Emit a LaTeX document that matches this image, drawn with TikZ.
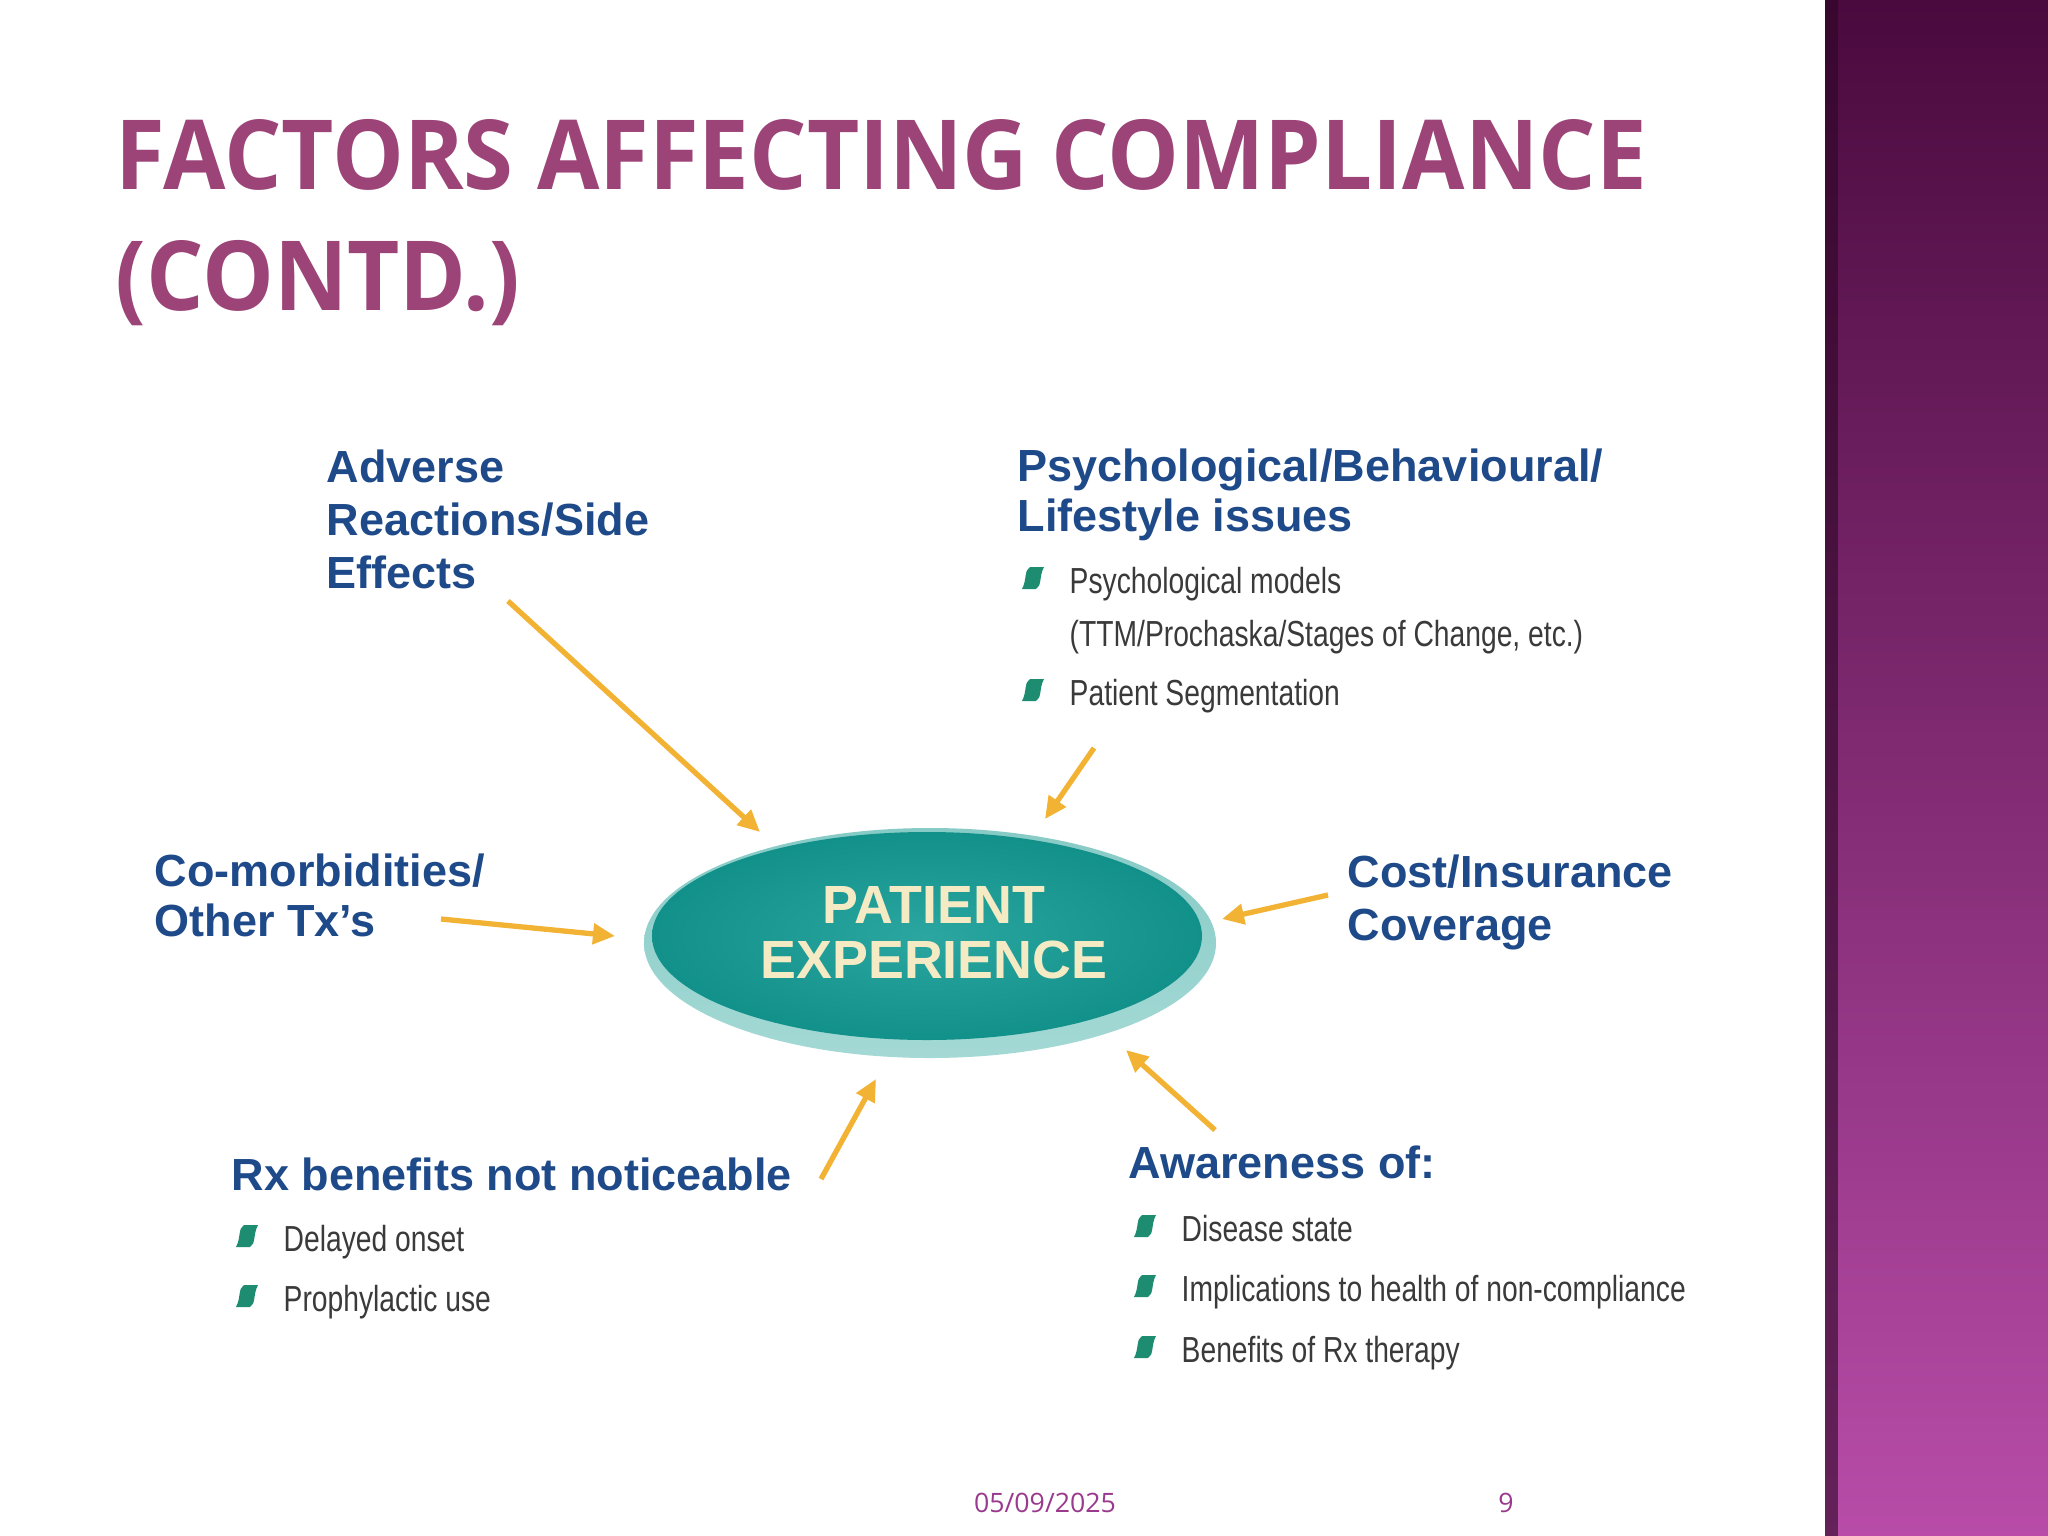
\documentclass[tikz,border=0pt]{standalone}
\usepackage{fontspec}
\setmainfont{Liberation Sans}
\newfontfamily\titlefont[FakeStretch=0.935]{Open Sans}
\newfontfamily\narrowfont[FakeStretch=0.78]{Liberation Sans}
\newfontfamily\footfont{Open Sans}
\usetikzlibrary{arrows.meta, shapes.geometric, positioning}

\definecolor{titlemauve}{HTML}{9C4478}
\definecolor{headblue}{HTML}{1F4A8A}
\definecolor{bodygray}{HTML}{3A3A3A}
\definecolor{bulletgreen}{HTML}{1E8C70}
\definecolor{arroworange}{HTML}{F2B233}
\definecolor{tealdark}{HTML}{12908A}
\definecolor{tealmid}{HTML}{2BA6A0}
\definecolor{teallight}{HTML}{A4D9D5}
\definecolor{cream}{HTML}{F4EBC4}
\definecolor{sidetop}{HTML}{4A0A3E}
\definecolor{sidemid}{HTML}{843A7C}
\definecolor{sidebot}{HTML}{B84CA8}
\definecolor{footmauve}{HTML}{9A3A8E}

\tikzset{
  heading/.style={anchor=base west, inner sep=0pt, align=left, text=headblue,
    font=\fontsize{12.8}{15}\selectfont\bfseries},
  tight/.style={font=\fontsize{12.8}{14.2}\selectfont\bfseries},
  item/.style={anchor=base west, inner sep=0pt, text=bodygray,
    font=\narrowfont\fontsize{10.3}{12}\selectfont},
  feed/.style={draw=arroworange, line width=1.5pt, -{Triangle[length=0.22cm,width=0.2cm]}},
  bulletmark/.pic={
    \fill[bulletgreen] (-11,11) .. controls (-6,2) and (-9,-8) .. (-3,-11) -- (11,-11)
      .. controls (6,-2) and (9,8) .. (3,11) -- cycle;
  },
}

\begin{document}
\begin{tikzpicture}[x=0.01cm, y=-0.01cm]
    % page and side band
    \useasboundingbox (0,0) rectangle (2048,1536);
    \fill[white] (0,0) rectangle (2048,1536);
    \shade[top color=sidetop, middle color=sidemid, bottom color=sidebot] (1825,0) rectangle (2048,1536);
    \fill[sidetop!60!black, opacity=0.6] (1825,0) rectangle (1838,1536);

    % title
    \node[anchor=base west, inner sep=0pt, align=left, text=titlemauve,
      font=\titlefont\bfseries\fontsize{27.5}{34.4}\selectfont] (title) at (115,310)
      {FACTORS AFFECTING COMPLIANCE\\(CONTD.)};

    % centre ellipse
    \shade[top color=teallight!80!tealdark, bottom color=teallight] (930,943) ellipse [x radius=286, y radius=115];
    \shade[inner color=tealmid, outer color=tealdark] (927,936) ellipse [x radius=275, y radius=104];
    \node[ellipse, minimum width=5.72cm, minimum height=2.3cm, align=center, text=cream,
      font=\fontsize{15.3}{15.6}\selectfont\bfseries] (pe) at (934,933) {PATIENT\\EXPERIENCE};

    % factors
    \node[heading] (adverse) at (326,588) {Adverse\\Reactions/Side\\Effects};
    \node[heading, tight] (psych) at (1017,531) {Psychological/Behavioural/\\Lifestyle issues};
    \node[heading, tight] (comorb) at (154,936) {Co-morbidities/\\Other Tx’s};
    \node[heading] (cost) at (1347,940) {Cost/Insurance\\Coverage};
    \node[heading] (rx) at (231,1190) {Rx benefits not noticeable};
    \node[heading] (aware) at (1128,1178) {Awareness of:};

    % bullet items
    \node[item] (psy1) at (1069,593) {Psychological models};
    \node[item] (psy2) at (1069,646) {(TTM/Prochaska/Stages of Change, etc.)};
    \node[item] (psy3) at (1069,705) {Patient Segmentation};
    \node[item] (rx1) at (283,1251) {Delayed onset};
    \node[item] (rx2) at (283,1311) {Prophylactic use};
    \node[item] (aw1) at (1181,1241) {Disease state};
    \node[item] (aw2) at (1181,1301) {Implications to health of non-compliance};
    \node[item] (aw3) at (1181,1362) {Benefits of Rx therapy};
    \foreach \p in {(1033,578),(1033,690),(247,1236),(247,1296),(1145,1226),(1145,1286),(1145,1347)}
      \pic at \p {bulletmark};

    % arrow ends
    \coordinate (adv-tail) at (508,601);   \coordinate (adv-tip) at (760,832);
    \coordinate (psy-tail) at (1094,748);  \coordinate (psy-tip) at (1045,819);
    \coordinate (com-tail) at (441,919);   \coordinate (com-tip) at (615,936);
    \coordinate (cost-tail) at (1328,895); \coordinate (cost-tip) at (1222,919);
    \coordinate (rx-tail) at (821,1179);   \coordinate (rx-tip) at (876,1079);
    \coordinate (aw-tail) at (1215,1130);  \coordinate (aw-tip) at (1126,1050);

    % arrows
    \draw[feed] (adv-tail) -- (adv-tip);
    \draw[feed] (psy-tail) -- (psy-tip);
    \draw[feed] (com-tail) -- (com-tip);
    \draw[feed] (cost-tail) -- (cost-tip);
    \draw[feed] (rx-tail) -- (rx-tip);
    \draw[feed] (aw-tail) -- (aw-tip);

    % footer
    \node[anchor=base, inner sep=0pt, text=footmauve, font=\footfont\fontsize{7.6}{9}\selectfont] (date) at (1045,1512) {05/09/2025};
    \node[anchor=base, inner sep=0pt, text=footmauve, font=\footfont\fontsize{7.6}{9}\selectfont] (pagenum) at (1506,1512) {9};
\end{tikzpicture}
\end{document}
